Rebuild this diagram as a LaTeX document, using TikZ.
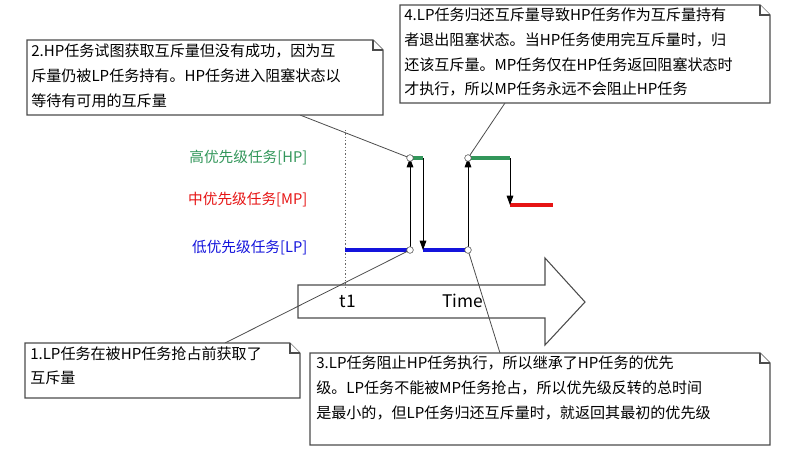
\documentclass[tikz,border=0pt]{standalone}
\usepackage{fontspec}
\setmainfont{Noto Sans CJK SC}
\usetikzlibrary{shapes.symbols,arrows.meta}
\definecolor{hpg}{RGB}{50,150,90}
\definecolor{mpr}{RGB}{230,20,20}
\definecolor{lpb}{RGB}{20,20,220}
\tikzset{
 note/.style={draw=black!70,fill=white,line width=0.8pt},
 notetext/.style={anchor=north west,align=left,font=\fontsize{11.3}{18.5}\selectfont,inner sep=0pt},
 bar/.style={line width=2.5pt},
 mv/.style={-{Triangle[length=7pt,width=5pt]},line width=0.6pt},
 pt/.style={circle,draw=black!70,fill=white,inner sep=0pt,minimum size=5pt},
 ptr/.style={draw=black!70,line width=0.6pt},
 lbl/.style={anchor=east,font=\fontsize{11}{11}\selectfont},
}
\newcommand{\notebox}[5]{% name, x1,y1,x2,y2
 \draw[note] (#2,#3) -- (#4-10,#3) -- (#4,#3+10) -- (#4,#5) -- (#2,#5) -- cycle;
 \draw[note] (#4-10,#3) -- (#4-10,#3+10) -- (#4,#3+10);
 \coordinate (#1) at (#2,#3);}
\begin{document}
\begin{tikzpicture}[x=0.75pt,y=-0.75pt]
\useasboundingbox (0,0) rectangle (786,451);
% time arrow
\draw[line width=0.8pt,fill=white,draw=black!70] (298,285) -- (545,285) -- (545,258) -- (585,302) -- (545,345) -- (545,318) -- (298,318) -- cycle;
\node[font=\fontsize{13}{13}\selectfont] (t1) at (348,301) {t1};
\node[font=\fontsize{13}{13}\selectfont] (time) at (463,301) {Time};
\draw[dash pattern=on 1pt off 1.5pt,black!60] (345,130) -- (345,288);
% labels
\node[lbl,text=hpg] (lhp) at (312,158) {高优先级任务[HP]};
\node[lbl,text=mpr] (lmp) at (312,200) {中优先级任务[MP]};
\node[lbl,text=lpb] (llp) at (312,248) {低优先级任务[LP]};
% points
\coordinate (lp0) at (345,250); \coordinate (a) at (410,250);
\coordinate (b) at (410,158); \coordinate (c) at (423,158);
\coordinate (d) at (423,250); \coordinate (e) at (468,250);
\coordinate (f) at (468,158); \coordinate (g) at (510,158);
\coordinate (h) at (510,205); \coordinate (i) at (553,205);
\draw[bar,lpb] (lp0) -- (a); \draw[bar,lpb] (d) -- (e);
\draw[bar,hpg] (b) -- (c); \draw[bar,hpg] (f) -- (g);
\draw[bar,mpr] (h) -- (i);
\draw[mv] (a) -- (b); \draw[mv] (c) -- (d);
\draw[mv] (e) -- (f); \draw[mv] (g) -- (h);
% pointers
\draw[ptr] (300,115) -- (b);
\draw[ptr] (505,103) -- (f);
\draw[ptr] (225,343) -- (a);
\draw[ptr] (500,353) -- (e);
\node[pt] (pa) at (a) {}; \node[pt] (pb) at (b) {};
\node[pt] (pe) at (e) {}; \node[pt] (pf) at (f) {};
% notes
\notebox{n2}{27}{40}{383}{115}
\node[notetext] (t2) at (31,44) {2.HP任务试图获取互斥量但没有成功，因为互\\斥量仍被LP任务持有。HP任务进入阻塞状态以\\等待有可用的互斥量};
\notebox{n4}{400}{5}{770}{103}
\node[notetext] (t4) at (404,8) {4.LP任务归还互斥量导致HP任务作为互斥量持有\\者退出阻塞状态。当HP任务使用完互斥量时，归\\还该互斥量。MP任务仅在HP任务返回阻塞状态时\\才执行，所以MP任务永远不会阻止HP任务};
\notebox{n1}{25}{343}{300}{398}
\node[notetext] (t1b) at (30,346) {1.LP任务在被HP任务抢占前获取了\\互斥量};
\notebox{n3}{310}{353}{770}{445}
\node[notetext] (t3) at (316,356) {3.LP任务阻止HP任务执行，所以继承了HP任务的优先\\级。LP任务不能被MP任务抢占，所以优先级反转的总时间\\是最小的，但LP任务归还互斥量时，就返回其最初的优先级};
\end{tikzpicture}
\end{document}
